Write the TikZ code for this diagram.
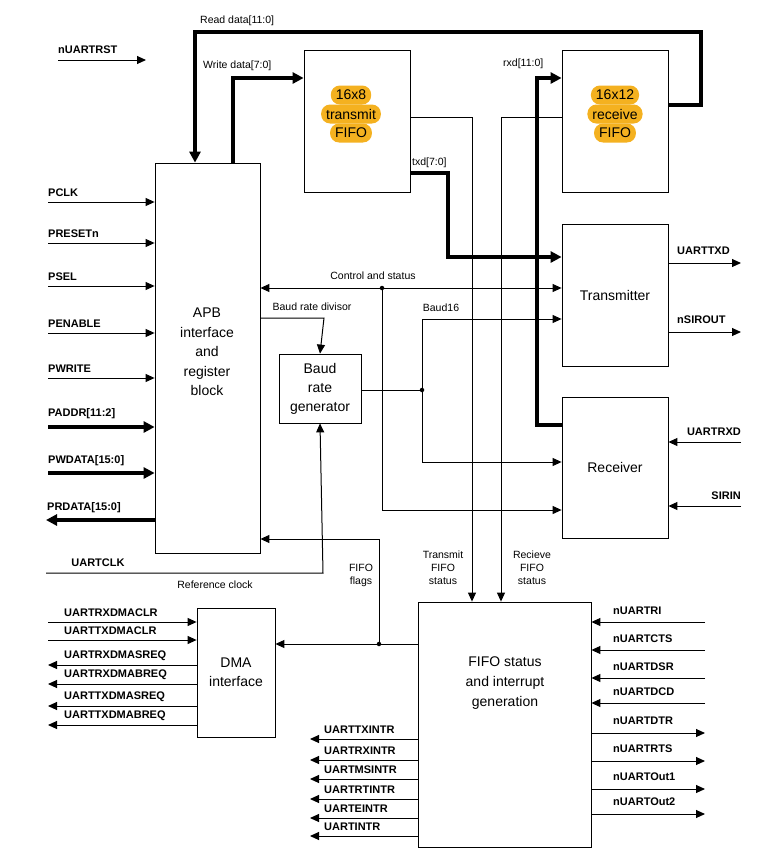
\documentclass[tikz,border=0pt]{standalone}
\usepackage{fontspec}
\setmainfont{Liberation Sans}
\usetikzlibrary{arrows.meta,calc}
\definecolor{fifoor}{HTML}{F4B120}
\begin{document}
\begin{tikzpicture}[x=1pt,y=-1pt,
  blk/.style={draw,line width=0.8pt,inner sep=0pt,align=center,font=\fontsize{14}{19}\selectfont},
  sig/.style={line width=1pt,-{Triangle[length=9pt,width=8pt]}},
  sigL/.style={line width=1pt,{Triangle[length=9pt,width=8pt]}-},
  bus/.style={line width=3.2pt,-{Triangle[length=11pt,width=11pt]}},
  busL/.style={line width=3.2pt,{Triangle[length=11pt,width=11pt]}-},
  pin/.style={font=\bfseries\fontsize{11}{12}\selectfont,inner sep=0pt},
  lbl/.style={font=\fontsize{10.5}{13}\selectfont,inner sep=0pt,align=center},
  orb/.style={fill=fifoor,rounded corners=9pt,inner xsep=5pt,inner ysep=0pt,minimum height=19pt,font=\fontsize{14}{16}\selectfont},
  dot/.style={circle,fill,inner sep=0pt,minimum size=4.5pt}]
\useasboundingbox (0,0) rectangle (760,860);
% blocks
\node[blk,minimum width=105pt,minimum height=390pt] (apb) at (207.5,358) {};
\node[lbl,font=\fontsize{14}{19.5}\selectfont] (apbt) at (207,352) {APB\\interface\\and\\register\\block};
\node[blk,minimum width=106pt,minimum height=142pt] (tfifo) at (357,121) {};
\node[blk,minimum width=106pt,minimum height=142pt] (rfifo) at (615,121) {};
\node[orb] (t1) at (351,95) {16x8};
\node[orb] (t3) at (351,133) {FIFO};
\node[orb] (t2) at (351,114) {transmit};
\node[orb] (r1) at (615,95) {16x12};
\node[orb] (r3) at (615,133) {FIFO};
\node[orb] (r2) at (615,114) {receive};
\node[blk,minimum width=106pt,minimum height=142pt] (tx) at (615,295) {Transmitter};
\node[blk,minimum width=106pt,minimum height=141pt] (rx) at (615,467.5) {Receiver};
\node[blk,minimum width=82pt,minimum height=69pt,font=\fontsize{14}{19}\selectfont] (baud) at (320,388.5) {Baud\\rate\\generator};
\node[blk,minimum width=78pt,minimum height=129pt] (dma) at (236,672.5) {DMA\\interface};
\node[blk,minimum width=173pt,minimum height=245pt] (fs) at (504.5,724.5) {};
\node[lbl,font=\fontsize{14}{20}\selectfont] (fst) at (505,683) {FIFO status\\and interrupt\\generation};
% read / write buses
\coordinate (rdA) at (701,105);
\coordinate (rdB) at (701,32);
\coordinate (rdC) at (195,32);
\draw[bus] (rfifo.east |- rdA) -- (rdA) -- (rdB) -- (rdC) -- (rdC |- apb.north);
\node[lbl,anchor=west] (rdl) at (200,21) {Read data[11:0]};
\coordinate (wdA) at (233,78);
\draw[bus] (wdA |- apb.north) -- (wdA) -- (wdA -| tfifo.west);
\node[lbl,anchor=west] (wdl) at (203,66) {Write data[7:0]};
% txd / rxd
\coordinate (txdA) at (448,173);
\coordinate (txdB) at (448,257);
\draw[bus] (tfifo.east |- txdA) -- (txdA) -- (txdB) -- (txdB -| tx.west);
\node[lbl,anchor=west] (txdl) at (412,163) {txd[7:0]};
\coordinate (rxdA) at (537,425);
\coordinate (rxdB) at (537,78);
\draw[bus] (rx.west |- rxdA) -- (rxdA) -- (rxdB) -- (rxdB -| rfifo.west);
\node[lbl,anchor=west] (rxdl) at (503,64) {rxd[11:0]};
% FIFO status lines
\coordinate (tsA) at (472,117);
\coordinate (rsA) at (501,117);
\draw[sig] (tfifo.east |- tsA) -- (tsA) -- (tsA |- fs.north);
\draw[sig] (rfifo.west |- rsA) -- (rsA) -- (rsA |- fs.north);
\node[lbl] (tsl) at (443,568) {Transmit\\FIFO\\status};
\node[lbl] (rsl) at (532,568) {Recieve\\FIFO\\status};
% control and status
\node[dot] (cs) at (382,288) {};
\draw[sigL] (apb.east |- cs) -- (cs);
\draw[sig] (cs) -- (cs -| tx.west);
\coordinate (csB) at (382,510);
\draw[sig] (cs) -- (csB) -- (csB -| rx.west);
\node[lbl] (csl) at (373,276) {Control and status};
% baud
\coordinate (bdA) at (324,318);
\draw[sig] (apb.east |- bdA) -- (bdA) -- (baud.north);
\node[lbl] (bdl) at (312,307) {Baud rate divisor};
\node[dot] (b16) at (422,390) {};
\draw[line width=1pt] (baud.east |- b16) -- (b16);
\coordinate (b16A) at (422,319);
\coordinate (b16B) at (422,462);
\draw[sig] (b16) -- (b16A) -- (b16A -| tx.west);
\draw[sig] (b16) -- (b16B) -- (b16B -| rx.west);
\node[lbl] (b16l) at (441,308) {Baud16};
% UARTCLK
\coordinate (ckA) at (46,573);
\coordinate (ckB) at (323,573);
\draw[sig] (ckA) -- (ckB) -- (baud.south);
\node[pin] (ckl) at (98,563) {UARTCLK};
\node[lbl] (refl) at (215,585) {Reference clock};
% FIFO flags
\node[dot] (ff) at (379,644) {};
\draw[sig] (fs.west |- ff) -- (ff) -- (ff -| dma.east);
\coordinate (ffA) at (379,539);
\draw[sig] (ff) -- (ffA) -- (ffA -| apb.east);
\node[lbl] (ffl) at (361,575) {FIFO\\flags};
% transmitter/receiver pins
\coordinate (utx) at (741,263);
\draw[sig] (tx.east |- utx) -- (utx);
\node[pin,anchor=west] (utxl) at (677,251) {UARTTXD};
\coordinate (nso) at (741,332);
\draw[sig] (tx.east |- nso) -- (nso);
\node[pin,anchor=west] (nsol) at (677,320) {nSIROUT};
\coordinate (urx) at (741,442);
\draw[sig] (urx) -- (urx -| rx.east);
\node[pin,anchor=east] (urxl) at (741,432) {UARTRXD};
\coordinate (sir) at (741,506);
\draw[sig] (sir) -- (sir -| rx.east);
\node[pin,anchor=east] (sirl) at (741,496) {SIRIN};
% nUARTRST
\coordinate (rstA) at (58,60);
\coordinate (rstB) at (146,60);
\draw[sig] (rstA) -- (rstB);
\node[pin,anchor=west] (rstl) at (58,50) {nUARTRST};
% APB inputs
\foreach \n/\y in {PCLK/202,PRESETn/243,PSEL/286,PENABLE/333,PWRITE/378}{
  \coordinate (in\n) at (48,\y);
  \draw[sig] (in\n) -- (in\n -| apb.west);
  \node[pin,anchor=west] (l\n) at (48,\y-9) {\n};
}
\coordinate (inPADDR) at (48,427);
\draw[bus] (inPADDR) -- (inPADDR -| apb.west);
\node[pin,anchor=west] (lPADDR) at (48,414) {PADDR[11:2]};
\coordinate (inPWDATA) at (48,473);
\draw[bus] (inPWDATA) -- (inPWDATA -| apb.west);
\node[pin,anchor=west] (lPWDATA) at (48,461) {PWDATA[15:0]};
\coordinate (outPRDATA) at (46,520);
\draw[busL] (outPRDATA) -- (outPRDATA -| apb.west);
\node[pin,anchor=west] (lPRDATA) at (47,508) {PRDATA[15:0]};
% DMA pins
\foreach \n/\y in {UARTRXDMACLR/622,UARTTXDMACLR/640}{
  \coordinate (d\n) at (48,\y);
  \draw[sig] (d\n) -- (d\n -| dma.west);
  \node[pin,anchor=west] (l\n) at (64,\y-9) {\n};
}
\foreach \n/\y in {UARTRXDMASREQ/665,UARTRXDMABREQ/684,UARTTXDMASREQ/706,UARTTXDMABREQ/725}{
  \coordinate (d\n) at (48,\y);
  \draw[sigL] (d\n) -- (d\n -| dma.west);
  \node[pin,anchor=west] (l\n) at (64,\y-9) {\n};
}
% interrupt outputs
\foreach \n/\y in {UARTTXINTR/739,UARTRXINTR/760,UARTMSINTR/779,UARTRTINTR/799,UARTEINTR/818,UARTINTR/836}{
  \coordinate (i\n) at (310,\y);
  \draw[sigL] (i\n) -- (i\n -| fs.west);
  \node[pin,anchor=west] (l\n) at (324,\y-9) {\n};
}
% modem pins
\foreach \n/\y in {nUARTRI/622,nUARTCTS/650,nUARTDSR/678,nUARTDCD/703}{
  \coordinate (m\n) at (705,\y);
  \draw[sig] (m\n) -- (m\n -| fs.east);
  \node[pin,anchor=west] (l\n) at (613,\y-11) {\n};
}
\foreach \n/\y in {nUARTDTR/733,nUARTRTS/761,nUARTOut1/789,nUARTOut2/814}{
  \coordinate (m\n) at (705,\y);
  \draw[sig] (m\n -| fs.east) -- (m\n);
  \node[pin,anchor=west] (l\n) at (613,\y-12) {\n};
}
\end{tikzpicture}
\end{document}
